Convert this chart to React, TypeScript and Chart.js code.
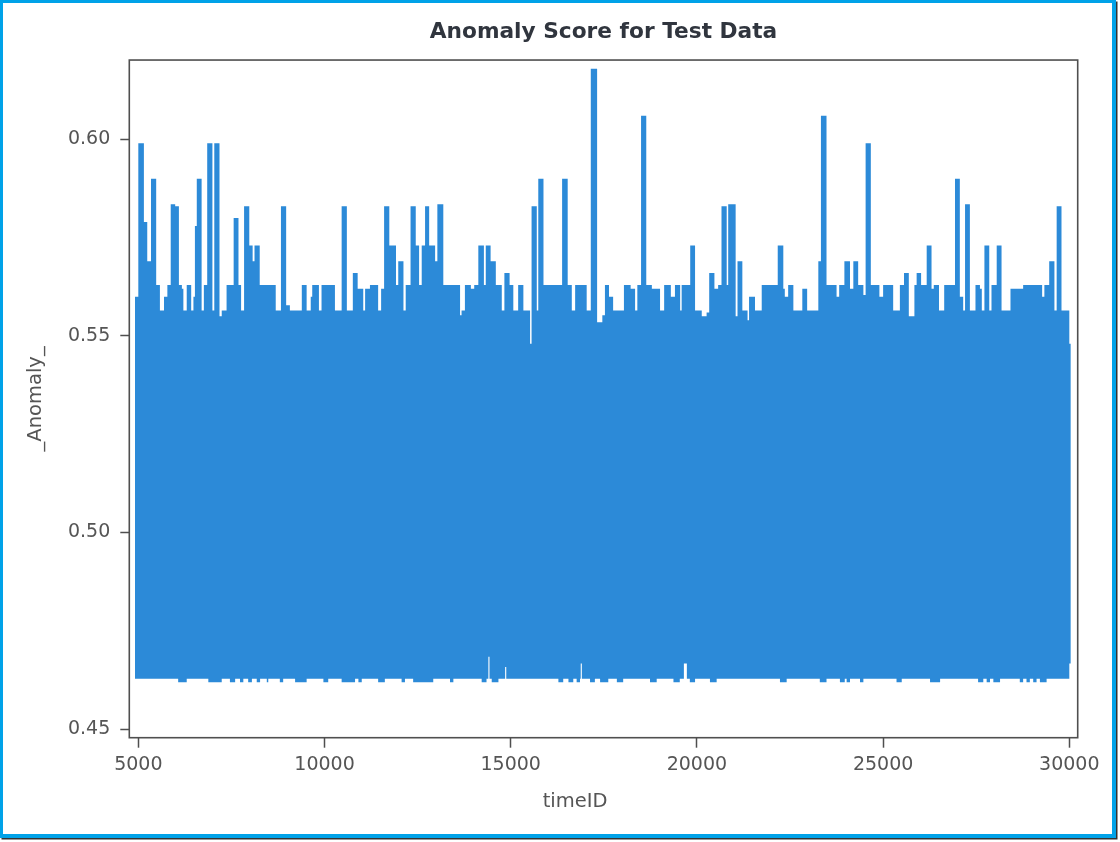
import { useEffect, useRef } from 'react';
import { Chart, registerables } from 'chart.js';

Chart.register(...registerables);

const CHART_TITLE = 'Anomaly Score for Test Data';
const X_TITLE = 'timeID';
const Y_TITLE = '_Anomaly_';

const X_TICKS = [5000, 10000, 15000, 20000, 25000, 30000];
const Y_TICKS = [0.45, 0.5, 0.55, 0.6];
const X_MIN = 4758;
const X_MAX = 30225;
const Y_MIN = 0.4478;
const Y_MAX = 0.6202;

// Upper envelope of the anomaly score: step start times and the level held from that time
const upperTime = [
  4910, 5000, 5150, 5240, 5340, 5480, 5580, 5690, 5780, 5870, 5990, 6090, 6170, 6210, 6300, 6420, 6480, 6520, 6570, 6700,
  6760, 6850, 6990, 7040, 7180, 7240, 7370, 7560, 7690, 7760, 7840, 7980, 8070, 8120, 8260, 8690, 8830, 8970, 9070, 9390,
  9520, 9630, 9670, 9850, 9920, 10280, 10460, 10600, 10760, 10890, 11040, 11090, 11220, 11440, 11520, 11600, 11740, 11920, 11980, 12120,
  12180, 12310, 12450, 12540, 12610, 12700, 12810, 12970, 13030, 13190, 13640, 13680, 13770, 13930, 14020, 14130, 14280, 14330, 14460, 14600,
  14760, 14830, 14970, 15070, 15200, 15340, 15520, 15560, 15700, 15740, 15880, 16380, 16530, 16640, 16730, 17040, 17150, 17320, 17460, 17530,
  17640, 17750, 18040, 18220, 18340, 18400, 18500, 18640, 18790, 19010, 19120, 19300, 19410, 19550, 19590, 19820, 19950, 20130, 20260, 20330,
  20470, 20570, 20660, 20800, 20840, 21040, 21090, 21220, 21360, 21400, 21560, 21740, 22170, 22320, 22360, 22450, 22590, 22830, 22960, 23260,
  23330, 23480, 23750, 23820, 23960, 24110, 24200, 24330, 24470, 24530, 24670, 24900, 25000, 25270, 25450, 25560, 25690, 25840, 25900, 26020,
  26170, 26300, 26360, 26500, 26640, 26930, 27060, 27150, 27200, 27330, 27480, 27600, 27650, 27720, 27850, 27910, 28050, 28180, 28420, 28760,
  29270, 29330, 29460, 29600, 29660, 29790, 30000,
];
const upperScore = [
  0.560, 0.599, 0.579, 0.569, 0.590, 0.563, 0.5565, 0.560, 0.563, 0.5835, 0.583, 0.563, 0.562, 0.5565, 0.563, 0.5565, 0.560, 0.578, 0.590, 0.5565,
  0.563, 0.599, 0.5565, 0.599, 0.555, 0.5565, 0.563, 0.580, 0.563, 0.5565, 0.583, 0.573, 0.569, 0.573, 0.563, 0.5565, 0.583, 0.5578, 0.5565, 0.563,
  0.5565, 0.560, 0.563, 0.5565, 0.563, 0.5565, 0.583, 0.5565, 0.566, 0.562, 0.5565, 0.562, 0.563, 0.5565, 0.562, 0.583, 0.573, 0.563, 0.569, 0.5565,
  0.563, 0.583, 0.573, 0.563, 0.573, 0.583, 0.573, 0.569, 0.5835, 0.563, 0.5553, 0.5565, 0.563, 0.562, 0.563, 0.573, 0.563, 0.573, 0.569, 0.563,
  0.5565, 0.566, 0.563, 0.5565, 0.563, 0.5565, 0.548, 0.583, 0.5565, 0.590, 0.563, 0.590, 0.563, 0.5565, 0.563, 0.5565, 0.618, 0.5535, 0.5553, 0.563,
  0.560, 0.5565, 0.563, 0.562, 0.5565, 0.563, 0.606, 0.563, 0.562, 0.5565, 0.563, 0.560, 0.563, 0.5565, 0.563, 0.573, 0.5565, 0.555, 0.556, 0.566,
  0.562, 0.563, 0.583, 0.563, 0.5835, 0.555, 0.569, 0.5565, 0.554, 0.560, 0.5565, 0.563, 0.573, 0.562, 0.560, 0.563, 0.5565, 0.562, 0.5565, 0.569,
  0.606, 0.563, 0.560, 0.563, 0.569, 0.562, 0.569, 0.563, 0.5604, 0.599, 0.563, 0.560, 0.563, 0.5565, 0.563, 0.566, 0.555, 0.563, 0.566, 0.563,
  0.573, 0.562, 0.563, 0.5565, 0.563, 0.590, 0.560, 0.5565, 0.5835, 0.5565, 0.563, 0.562, 0.5565, 0.573, 0.5565, 0.563, 0.573, 0.5565, 0.562, 0.563,
  0.560, 0.563, 0.569, 0.5565, 0.583, 0.5565, 0.548,
];
const END_TIME = 30040;

// Lower envelope: a base level with short dips and short upward gaps
const LOWER_BASE = 0.4628;
const lowerEventStart = [
  6070, 6880, 7460, 7730, 7950, 8180, 8450, 8800, 9210, 9970, 10460, 10910, 11440, 12070, 12380, 13370, 14220, 14400, 14490, 14850,
  16280, 16550, 16770, 16880, 17130, 17400, 17850, 18740, 19370, 19650, 19810, 20350, 22230, 23300, 23840, 24020, 24380, 25360, 26260, 27550,
  27780, 27960, 28670, 28850, 29030, 29210, 30000,
];
const lowerEventEnd = [
  6300, 7240, 7600, 7820, 8050, 8270, 8490, 8890, 9520, 10100, 10820, 11000, 11620, 12160, 12920, 13460, 14350, 14430, 14670, 14880,
  16410, 16680, 16860, 16910, 17260, 17620, 18020, 18920, 19540, 19730, 19950, 20530, 22410, 23480, 23970, 24110, 24470, 25500, 26530, 27690,
  27870, 28140, 28760, 28940, 29120, 29390, 30040,
];
const lowerEventScore = [
  0.4619, 0.4619, 0.4619, 0.4619, 0.4619, 0.4619, 0.4619, 0.4619, 0.4619, 0.4619, 0.4619, 0.4619, 0.4619, 0.4619, 0.4619, 0.4619, 0.4619, 0.4684, 0.4619, 0.4658,
  0.4619, 0.4619, 0.4619, 0.4667, 0.4619, 0.4619, 0.4619, 0.4619, 0.4619, 0.4667, 0.4619, 0.4619, 0.4619, 0.4619, 0.4619, 0.4619, 0.4619, 0.4619, 0.4619, 0.4619,
  0.4619, 0.4619, 0.4619, 0.4619, 0.4619, 0.4619, 0.4667,
];
const LOWER_START = 4910;

const BAND_COLOR = '#2c8ad8';
const AXIS_COLOR = '#4f4f4f';
const TICK_TEXT = '#555555';
const TITLE_TEXT = '#30353e';
const FONT = '"DejaVu Sans", sans-serif';

type Pt = { x: number; y: number };

function stepsToPoints(times: number[], scores: number[], end: number): Pt[] {
  const pts: Pt[] = [];
  for (let i = 0; i < times.length; i++) {
    const x1 = i + 1 < times.length ? times[i + 1] : end;
    pts.push({ x: times[i], y: scores[i] });
    pts.push({ x: x1, y: scores[i] });
  }
  return pts;
}

function lowerSteps(): { t: number[]; s: number[] } {
  const t: number[] = [LOWER_START];
  const s: number[] = [LOWER_BASE];
  for (let i = 0; i < lowerEventStart.length; i++) {
    t.push(lowerEventStart[i]);
    s.push(lowerEventScore[i]);
    if (lowerEventEnd[i] < END_TIME) {
      t.push(lowerEventEnd[i]);
      s.push(LOWER_BASE);
    }
  }
  return { t, s };
}

const plotFrame = {
  id: 'plotFrame',
  afterDatasetsDraw(chart: any) {
    const { ctx, chartArea: a } = chart;
    ctx.save();
    ctx.strokeStyle = AXIS_COLOR;
    ctx.lineWidth = 1.6;
    ctx.strokeRect(a.left, a.top, a.right - a.left, a.bottom - a.top);
    ctx.restore();
  },
};

const xTitlePlugin = {
  id: 'xTitleText',
  afterDraw(chart: any) {
    const { ctx, chartArea: a } = chart;
    ctx.save();
    ctx.font = `19.5px ${FONT}`;
    ctx.fillStyle = TICK_TEXT;
    ctx.textAlign = 'center';
    ctx.textBaseline = 'alphabetic';
    ctx.fillText(X_TITLE, a.left + (a.right - a.left) * 0.47, a.bottom + 69);
    ctx.restore();
  },
};

export default function App() {
  const canvasRef = useRef<HTMLCanvasElement | null>(null);

  useEffect(() => {
    if (!canvasRef.current) return;
    const low = lowerSteps();
    const upperPts = stepsToPoints(upperTime, upperScore, END_TIME);
    const lowerPts = stepsToPoints(low.t, low.s, END_TIME);

    const chart = new Chart(canvasRef.current, {
      type: 'line',
      data: {
        datasets: [
          {
            label: 'upper',
            data: upperPts,
            borderColor: 'rgba(0,0,0,0)',
            borderWidth: 0,
            backgroundColor: BAND_COLOR,
            pointRadius: 0,
            fill: '+1',
            tension: 0,
          },
          {
            label: 'lower',
            data: lowerPts,
            borderColor: 'rgba(0,0,0,0)',
            borderWidth: 0,
            backgroundColor: BAND_COLOR,
            pointRadius: 0,
            fill: false,
            tension: 0,
          },
        ],
      },
      options: {
        animation: false,
        responsive: false,
        events: [],
        layout: { padding: { left: 4, right: 42.3, top: 4, bottom: 6 } },
        plugins: {
          legend: { display: false },
          tooltip: { enabled: false },
          title: {
            display: true,
            text: CHART_TITLE,
            fullSize: false,
            color: TITLE_TEXT,
            font: { family: FONT, size: 21.7, weight: 'bold' },
            padding: { top: 15.6, bottom: 14.4 },
          },
        },
        scales: {
          x: {
            type: 'linear',
            min: X_MIN,
            max: X_MAX,
            afterBuildTicks: (axis: any) => {
              axis.ticks = X_TICKS.map((v) => ({ value: v }));
            },
            afterFit: (axis: any) => {
              axis.height = 842 - 737.7 - 6;
            },
            ticks: {
              color: TICK_TEXT,
              font: { family: FONT, size: 19 },
              padding: 6,
              maxRotation: 0,
              autoSkip: false,
              callback: (v: any) => String(v),
            },
            grid: {
              display: true,
              drawOnChartArea: false,
              drawTicks: true,
              tickLength: 10,
              tickColor: AXIS_COLOR,
              tickWidth: 1.5,
            },
            border: { display: false },
          },
          y: {
            type: 'linear',
            min: Y_MIN,
            max: Y_MAX,
            afterBuildTicks: (axis: any) => {
              axis.ticks = Y_TICKS.map((v) => ({ value: v }));
            },
            afterFit: (axis: any) => {
              axis.width = 129.3 - 4;
            },
            ticks: {
              color: TICK_TEXT,
              font: { family: FONT, size: 19 },
              padding: 10,
              autoSkip: false,
              callback: (v: any) => Number(v).toFixed(2),
            },
            grid: {
              display: true,
              drawOnChartArea: false,
              drawTicks: true,
              tickLength: 9,
              tickColor: AXIS_COLOR,
              tickWidth: 1.5,
            },
            border: { display: false },
            title: {
              display: true,
              text: Y_TITLE,
              color: TICK_TEXT,
              font: { family: FONT, size: 19.5 },
              padding: { top: 20, bottom: 0 },
            },
          },
        },
      },
      plugins: [plotFrame, xTitlePlugin],
    });
    return () => chart.destroy();
  }, []);

  return (
    <div style={{ position: 'fixed', left: 0, top: 0, width: 1120, height: 842, background: '#ffffff' }}>
      <div
        style={{
          position: 'absolute',
          left: 0,
          top: 0,
          width: 1116,
          height: 838,
          boxSizing: 'border-box',
          borderStyle: 'solid',
          borderColor: '#00a2e8',
          borderWidth: '3.5px 4px 4px 3.5px',
          boxShadow: '1.5px 1.5px 0 #333333',
        }}
      />
      <canvas
        ref={canvasRef}
        width={1120}
        height={842}
        style={{ position: 'absolute', left: 0, top: 0, width: 1120, height: 842 }}
      />
    </div>
  );
}
